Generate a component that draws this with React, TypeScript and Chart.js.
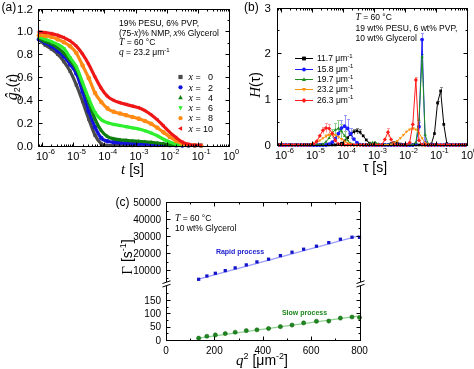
import React, { useEffect, useRef } from 'react';
import { Chart, registerables } from 'chart.js';

Chart.register(...registerables);

const W = 474;
const H = 369;
const SANS = '"Liberation Sans", Arial, Helvetica, sans-serif';
const SERIF = '"Liberation Serif", "Times New Roman", serif';
const fs = (size: number, w = '') => `${w ? w + ' ' : ''}${size}px ${SANS}`;
const ff = (size: number, w = '') => `${w ? w + ' ' : ''}${size}px ${SERIF}`;

// ---------------- Panel (a): g2(t) curves ----------------
const tA = [
  7.94e-7, 1.26e-6, 2.0e-6, 3.16e-6, 5.01e-6, 7.94e-6, 1.26e-5, 2.0e-5, 3.16e-5,
  5.01e-5, 7.94e-5, 1.26e-4, 2.0e-4, 3.16e-4, 5.01e-4, 7.94e-4, 1.26e-3, 2.0e-3,
  3.16e-3, 5.01e-3, 7.94e-3, 1.26e-2, 2.0e-2, 3.16e-2, 5.01e-2, 7.94e-2, 1.26e-1,
];
const gX0 = [0.93, 0.88, 0.845, 0.8, 0.735, 0.65, 0.53, 0.385, 0.23, 0.09, 0.015, 0, 0, 0, 0, 0, 0, 0, 0, 0, 0, 0, 0, 0, 0, 0, 0];
const gX2 = [0.93, 0.9, 0.87, 0.83, 0.78, 0.71, 0.63, 0.47, 0.3, 0.16, 0.065, 0.037, 0.028, 0.024, 0.02, 0.018, 0.016, 0.014, 0.012, 0.01, 0.008, 0.005, 0.003, 0.001, 0, 0, 0];
const gX4 = [0.94, 0.91, 0.89, 0.855, 0.81, 0.745, 0.67, 0.54, 0.38, 0.23, 0.13, 0.078, 0.058, 0.05, 0.045, 0.04, 0.037, 0.033, 0.028, 0.022, 0.015, 0.008, 0.003, 0.001, 0, 0, 0];
const gX6 = [0.95, 0.93, 0.91, 0.885, 0.85, 0.77, 0.69, 0.55, 0.41, 0.29, 0.225, 0.2, 0.185, 0.175, 0.165, 0.155, 0.145, 0.13, 0.11, 0.085, 0.055, 0.03, 0.012, 0.004, 0.001, 0, 0];
const gX8 = [0.965, 0.96, 0.95, 0.93, 0.905, 0.87, 0.81, 0.7, 0.59, 0.46, 0.38, 0.325, 0.295, 0.28, 0.265, 0.25, 0.235, 0.215, 0.19, 0.155, 0.115, 0.075, 0.04, 0.015, 0.004, 0.001, 0];
const gX10 = [0.995, 0.99, 0.98, 0.965, 0.945, 0.915, 0.87, 0.8, 0.71, 0.6, 0.5, 0.43, 0.395, 0.375, 0.36, 0.345, 0.33, 0.305, 0.27, 0.225, 0.17, 0.115, 0.07, 0.03, 0.01, 0.002, 0];
const legendA = ['0', '2', '4', '6', '8', '10'];
const yTicksA = [0, 0.2, 0.4, 0.6, 0.8, 1.0, 1.2];
const yTickLabelsA = ['0.0', '0.2', '0.4', '0.6', '0.8', '1.0', '1.2'];
const yMinorA = [0.1, 0.3, 0.5, 0.7, 0.9, 1.1];
const logExps = [-6, -5, -4, -3, -2, -1, 0];
const decades = [1e-6, 1e-5, 1e-4, 1e-3, 1e-2, 1e-1, 1];

// ---------------- Panel (b): H(tau) distributions ----------------
const tauB = [
  8.91e-7,
  1.12e-6, 1.41e-6, 1.78e-6, 2.24e-6, 2.82e-6, 3.55e-6, 4.47e-6, 5.62e-6, 7.08e-6, 8.91e-6,
  1.12e-5, 1.41e-5, 1.78e-5, 2.24e-5, 2.82e-5, 3.55e-5, 4.47e-5, 5.62e-5, 7.08e-5, 8.91e-5,
  1.12e-4, 1.41e-4, 1.78e-4, 2.24e-4, 2.82e-4, 3.55e-4, 4.47e-4, 5.62e-4, 7.08e-4, 8.91e-4,
  1.12e-3, 1.41e-3, 1.78e-3, 2.24e-3, 2.82e-3, 3.55e-3, 4.47e-3, 5.62e-3, 7.08e-3, 8.91e-3,
  1.12e-2, 1.41e-2, 1.78e-2, 2.24e-2, 2.82e-2, 3.55e-2, 4.47e-2, 5.62e-2, 7.08e-2, 8.91e-2,
  1.12e-1, 1.41e-1, 1.78e-1, 2.24e-1, 2.82e-1, 3.55e-1, 4.47e-1, 5.62e-1, 7.08e-1, 8.91e-1,
];
const hBlack = [
  0, 0, 0, 0, 0, 0, 0, 0, 0, 0,
  0, 0, 0, 0, 0, 0, 0, 0, 0, 0.01,
  0.04, 0.09, 0.16, 0.23, 0.29, 0.31, 0.28, 0.2, 0.11, 0.04,
  0.01, 0, 0, 0, 0, 0, 0.03, 0.05, 0.04, 0.02,
  0, 0, 0, 0, 0, 0, 0, 0, 0, 0.02,
  0.25, 0.92, 1.18, 0.45, 0.03, 0, 0, 0, 0, 0,
  0,
];
const hBlue = [
  0, 0, 0, 0, 0, 0, 0, 0, 0, 0,
  0, 0, 0, 0, 0, 0, 0.02, 0.06, 0.14, 0.25,
  0.37, 0.41, 0.36, 0.25, 0.13, 0.05, 0.01, 0, 0, 0,
  0, 0, 0, 0, 0, 0, 0, 0, 0, 0,
  0, 0, 0, 0, 0.02, 0.4, 2.3, 0.05, 0, 0,
  0, 0, 0, 0, 0, 0, 0, 0, 0, 0,
  0,
];
const hGreen = [
  0, 0, 0, 0, 0, 0, 0, 0, 0, 0,
  0, 0, 0, 0, 0.02, 0.07, 0.15, 0.26, 0.33, 0.36,
  0.3, 0.2, 0.1, 0.03, 0, 0, 0, 0, 0, 0.03,
  0.05, 0.05, 0.02, 0, 0, 0, 0, 0, 0, 0,
  0, 0, 0, 0, 0.05, 0.55, 1.93, 0.22, 0.02, 0,
  0, 0, 0, 0, 0, 0, 0, 0, 0, 0,
  0,
];
const hOrange = [
  0, 0, 0, 0, 0, 0, 0, 0, 0, 0,
  0.01, 0.03, 0.06, 0.1, 0.15, 0.19, 0.22, 0.23, 0.22, 0.18,
  0.13, 0.08, 0.04, 0.02, 0, 0, 0, 0, 0, 0,
  0, 0, 0, 0, 0, 0, 0.01, 0.04, 0.09, 0.15,
  0.22, 0.29, 0.34, 0.36, 0.34, 0.27, 0.15, 0.05, 0.01, 0,
  0, 0, 0, 0, 0, 0, 0, 0, 0, 0,
  0,
];
const hRed = [
  0, 0, 0, 0, 0, 0, 0, 0, 0, 0,
  0, 0.02, 0.08, 0.2, 0.32, 0.37, 0.36, 0.25, 0.1, 0.02,
  0, 0, 0, 0, 0, 0, 0, 0, 0, 0,
  0, 0, 0, 0, 0.12, 0.28, 0.12, 0, 0, 0,
  0, 0, 0.05, 0.45, 1.42, 0.1, 0.01, 0, 0, 0,
  0, 0, 0, 0, 0, 0, 0, 0, 0, 0,
  0,
];
const eBlack = [
  0, 0, 0, 0, 0, 0, 0, 0, 0, 0,
  0, 0, 0, 0, 0, 0, 0, 0, 0, 0,
  0, 0, 0, 0.05, 0.06, 0.07, 0.06, 0, 0, 0,
  0, 0, 0, 0, 0, 0, 0, 0, 0, 0,
  0, 0, 0, 0, 0, 0, 0, 0, 0, 0,
  0, 0.05, 0.08, 0, 0, 0, 0, 0, 0, 0,
  0,
];
const eBlue = [
  0, 0, 0, 0, 0, 0, 0, 0, 0, 0,
  0, 0, 0, 0, 0, 0, 0, 0, 0, 0.12,
  0.18, 0.24, 0.2, 0.12, 0, 0, 0, 0, 0, 0,
  0, 0, 0, 0, 0, 0, 0, 0, 0, 0,
  0, 0, 0, 0, 0, 0.1, 0.15, 0, 0, 0,
  0, 0, 0, 0, 0, 0, 0, 0, 0, 0,
  0,
];
const eGreen = [
  0, 0, 0, 0, 0, 0, 0, 0, 0, 0,
  0, 0, 0, 0, 0, 0, 0, 0.1, 0.16, 0.18,
  0.15, 0.1, 0, 0, 0, 0, 0, 0, 0, 0,
  0, 0, 0, 0, 0, 0, 0, 0, 0, 0,
  0, 0, 0, 0, 0, 0, 0.05, 0, 0, 0,
  0, 0, 0, 0, 0, 0, 0, 0, 0, 0,
  0,
];
const eOrange = [
  0, 0, 0, 0, 0, 0, 0, 0, 0, 0,
  0, 0, 0, 0, 0, 0.04, 0.05, 0.05, 0, 0,
  0, 0, 0, 0, 0, 0, 0, 0, 0, 0,
  0, 0, 0, 0, 0, 0, 0, 0, 0, 0,
  0, 0, 0, 0.03, 0, 0, 0, 0, 0, 0,
  0, 0, 0, 0, 0, 0, 0, 0, 0, 0,
  0,
];
const eRed = [
  0, 0, 0, 0, 0, 0, 0, 0, 0, 0,
  0, 0, 0, 0, 0.08, 0.1, 0.1, 0.06, 0, 0,
  0, 0, 0, 0, 0, 0, 0, 0, 0, 0,
  0, 0, 0, 0, 0, 0.1, 0, 0, 0, 0,
  0, 0, 0, 0, 0.06, 0, 0, 0, 0, 0,
  0, 0, 0, 0, 0, 0, 0, 0, 0, 0,
  0,
];
const legendB = ['11.7', '15.8', '19.7', '23.2', '26.3'];
const yTicksB = [0, 1, 2, 3];
const yMinorB = [0.5, 1.5, 2.5];

// ---------------- Panel (c): relaxation rates ----------------
const q2C = [135, 169, 204, 245, 286, 332, 376, 424, 473, 521, 569, 622, 673, 721, 769, 800];
const gammaRapid = [4490, 6440, 8040, 9630, 11230, 13000, 14770, 16370, 18490, 20500, 22270, 24050, 26180, 28180, 29360, 29300];
const gammaSlow = [7, 14, 19, 24, 29, 35, 38, 43, 50, 56, 64, 70, 71, 82, 86, 84];
const fitQ2 = [135, 800];
const fitRapid = [4600, 30300];
const fitSlow = [7, 90];
const xTicksC = [0, 200, 400, 600, 800];
const xMinorC = [100, 300, 500, 700];
const yTicksCTop = [10000, 20000, 30000, 40000, 50000];
const yMinorCTop = [5000, 15000, 25000, 35000, 45000];
const yTicksCBot = [0, 50, 100, 150];
const yMinorCBot = [25, 75, 125, 175];

// ---------------- helpers ----------------
type Part = { t: string; font: string; dy?: number; color?: string };

function rich(ctx: CanvasRenderingContext2D, parts: Part[], x: number, y: number, align = 'left', rot = 0, off = 0) {
  ctx.save();
  ctx.translate(x, y);
  if (rot) ctx.rotate(rot);
  if (off) ctx.translate(0, off);
  ctx.textAlign = 'left';
  ctx.textBaseline = 'alphabetic';
  let total = 0;
  const widths = parts.map((p) => {
    ctx.font = p.font;
    const w = ctx.measureText(p.t).width;
    total += w;
    return w;
  });
  let cx = align === 'center' ? -total / 2 : align === 'right' ? -total : 0;
  parts.forEach((p, i) => {
    ctx.font = p.font;
    ctx.fillStyle = p.color || '#000';
    ctx.fillText(p.t, cx, p.dy || 0);
    cx += widths[i];
  });
  ctx.restore();
}

function sci(ctx: CanvasRenderingContext2D, e: number, x: number, base: number) {
  ctx.save();
  ctx.font = fs(11);
  const w = ctx.measureText('10').width;
  ctx.restore();
  rich(ctx, [{ t: '10', font: fs(11) }, { t: String(e), font: fs(7.5), dy: -6 }], x - w / 2, base);
}

const snap = (v: number) => Math.round(v) + 0.5;

function frame(ctx: CanvasRenderingContext2D, a: any, l: boolean, r: boolean, t: boolean, b: boolean) {
  const L = snap(a.left), R = snap(a.right), T = snap(a.top), B = snap(a.bottom);
  ctx.beginPath();
  if (l) { ctx.moveTo(L, T); ctx.lineTo(L, B); }
  if (r) { ctx.moveTo(R, T); ctx.lineTo(R, B); }
  if (t) { ctx.moveTo(L, T); ctx.lineTo(R, T); }
  if (b) { ctx.moveTo(L, B); ctx.lineTo(R, B); }
  ctx.stroke();
}

function ticksX(ctx: CanvasRenderingContext2D, chart: any, vals: number[], len: number, top: boolean, bottom: boolean) {
  const a = chart.chartArea;
  const s = chart.scales.x;
  ctx.beginPath();
  for (const v of vals) {
    const p = s.getPixelForValue(v);
    if (p < a.left - 0.01 || p > a.right + 0.01) continue;
    const x = snap(p);
    if (bottom) { ctx.moveTo(x, snap(a.bottom)); ctx.lineTo(x, snap(a.bottom) - len); }
    if (top) { ctx.moveTo(x, snap(a.top)); ctx.lineTo(x, snap(a.top) + len); }
  }
  ctx.stroke();
}

function ticksY(ctx: CanvasRenderingContext2D, chart: any, vals: number[], len: number, left: boolean, right: boolean) {
  const a = chart.chartArea;
  const s = chart.scales.y;
  ctx.beginPath();
  for (const v of vals) {
    const p = s.getPixelForValue(v);
    if (p < a.top - 0.01 || p > a.bottom + 0.01) continue;
    const y = snap(p);
    if (left) { ctx.moveTo(snap(a.left), y); ctx.lineTo(snap(a.left) + len, y); }
    if (right) { ctx.moveTo(snap(a.right), y); ctx.lineTo(snap(a.right) - len, y); }
  }
  ctx.stroke();
}

function mark(ctx: CanvasRenderingContext2D, style: string, x: number, y: number, r: number, color: string) {
  ctx.save();
  ctx.fillStyle = color;
  ctx.beginPath();
  if (style === 'rect') ctx.rect(x - r, y - r, 2 * r, 2 * r);
  else if (style === 'circle') ctx.arc(x, y, r, 0, Math.PI * 2);
  else if (style === 'up') { ctx.moveTo(x, y - r * 1.2); ctx.lineTo(x + r * 1.1, y + r * 0.75); ctx.lineTo(x - r * 1.1, y + r * 0.75); ctx.closePath(); }
  else if (style === 'down') { ctx.moveTo(x, y + r * 1.2); ctx.lineTo(x + r * 1.1, y - r * 0.75); ctx.lineTo(x - r * 1.1, y - r * 0.75); ctx.closePath(); }
  else if (style === 'left') { ctx.moveTo(x - r * 1.2, y); ctx.lineTo(x + r * 0.75, y - r * 1.1); ctx.lineTo(x + r * 0.75, y + r * 1.1); ctx.closePath(); }
  else if (style === 'diamond') { ctx.moveTo(x, y - r * 1.3); ctx.lineTo(x + r * 1.3, y); ctx.lineTo(x, y + r * 1.3); ctx.lineTo(x - r * 1.3, y); ctx.closePath(); }
  ctx.fill();
  ctx.restore();
}

const cjsStyle: Record<string, [string, number]> = {
  rect: ['rect', 0],
  circle: ['circle', 0],
  up: ['triangle', 0],
  down: ['triangle', 180],
  left: ['triangle', -90],
  diamond: ['rectRot', 0],
};

const logMinor: number[] = [];
for (let e = -7; e < 0; e++) for (let m = 2; m <= 9; m++) logMinor.push(m * Math.pow(10, e));

function baseOptions(l: number, t: number, r: number, b: number, scales: any) {
  return {
    responsive: false,
    maintainAspectRatio: false,
    animation: false,
    devicePixelRatio: 1,
    events: [],
    layout: { padding: { left: l, top: t, right: W - r, bottom: H - b } },
    plugins: { legend: { display: false }, tooltip: { enabled: false }, title: { display: false } },
    scales,
  };
}

// ---------------- chart configs ----------------
const seriesA = [
  { lab: legendA[0], vals: gX0, color: '#4a4a4a', style: 'rect' },
  { lab: legendA[1], vals: gX2, color: '#1212dd', style: 'circle' },
  { lab: legendA[2], vals: gX4, color: '#0e7e0e', style: 'up' },
  { lab: legendA[3], vals: gX6, color: '#2eef2e', style: 'down' },
  { lab: legendA[4], vals: gX8, color: '#ff8a14', style: 'circle' },
  { lab: legendA[5], vals: gX10, color: '#ee1616', style: 'left' },
];

const seriesB = [
  { q: legendB[0], vals: hBlack, err: eBlack, color: '#000000', ecolor: '#8a8a8a', style: 'rect' },
  { q: legendB[1], vals: hBlue, err: eBlue, color: '#1a1aff', ecolor: '#9a9aff', style: 'circle' },
  { q: legendB[2], vals: hGreen, err: eGreen, color: '#1f8f1f', ecolor: '#90cc90', style: 'up' },
  { q: legendB[3], vals: hOrange, err: eOrange, color: '#ff9410', ecolor: '#ffc986', style: 'down' },
  { q: legendB[4], vals: hRed, err: eRed, color: '#ff1c1c', ecolor: '#ff9d9d', style: 'diamond' },
];

function makeA(): any {
  return {
    type: 'scatter',
    data: {
      datasets: seriesA.map((s, i) => ({
        label: 'x = ' + s.lab,
        data: tA.map((t, j) => ({ x: t, y: s.vals[j] })),
        showLine: true,
        borderColor: s.color,
        backgroundColor: s.color,
        borderWidth: 3.2,
        pointRadius: 2.3,
        pointBorderWidth: 0,
        pointStyle: cjsStyle[s.style][0],
        pointRotation: cjsStyle[s.style][1],
        cubicInterpolationMode: 'monotone',
        order: 10 - i,
        clip: false,
      })),
    },
    options: baseOptions(38, 8.5, 229, 145.5, {
      x: { type: 'logarithmic', min: 7.4e-7, max: 1, display: false },
      y: { type: 'linear', min: 0, max: 1.2, display: false },
    }),
    plugins: [
      {
        id: 'decorA',
        afterDraw(chart: any) {
          const ctx = chart.ctx as CanvasRenderingContext2D;
          const a = chart.chartArea;
          const sx = chart.scales.x;
          const sy = chart.scales.y;
          ctx.save();
          ctx.strokeStyle = '#000';
          ctx.lineWidth = 1;
          ctx.lineCap = 'square';
          frame(ctx, a, true, true, true, true);
          ctx.lineCap = 'butt';
          ticksX(ctx, chart, decades, 4, true, true);
          ticksX(ctx, chart, logMinor, 2, true, true);
          ticksY(ctx, chart, yTicksA, 4, true, true);
          ticksY(ctx, chart, yMinorA, 2, true, true);
          logExps.forEach((e, i) => sci(ctx, e, sx.getPixelForValue(decades[i]), 160));
          yTicksA.forEach((v, i) => rich(ctx, [{ t: yTickLabelsA[i], font: fs(11.5) }], 33, sy.getPixelForValue(v) + 4, 'right'));
          // titles
          rich(ctx, [{ t: '(a)', font: fs(12) }], 1.5, 11);
          rich(ctx, [{ t: 't', font: ff(15, 'italic') }, { t: ' [s]', font: fs(14) }], 132.5, 174, 'center');
          rich(
            ctx,
            [
              { t: 'ĝ', font: ff(16, 'italic') },
              { t: '2', font: fs(9), dy: 3 },
              { t: '(', font: fs(14) },
              { t: 't', font: ff(15, 'italic') },
              { t: ')', font: fs(14) },
            ],
            11.5, 87, 'center', -Math.PI / 2, 5,
          );
          // annotation
          const f = fs(8.5);
          const fi = ff(9.5, 'italic');
          rich(ctx, [{ t: '19% PESU, 6% PVP,', font: f }], 119, 26);
          rich(ctx, [{ t: '(75-', font: f }, { t: 'x', font: fi }, { t: ')% NMP, ', font: f }, { t: 'x', font: fi }, { t: '% Glycerol', font: f }], 119, 35.6);
          rich(ctx, [{ t: 'T', font: fi }, { t: ' = 60 °C', font: f }], 119, 45.3);
          rich(ctx, [{ t: 'q', font: fi }, { t: ' = 23.2 μm', font: f }, { t: '-1', font: fs(6), dy: -3.5 }], 119, 55);
          // legend
          const rows = [77, 87.3, 97.6, 107.9, 118.2, 128.5];
          seriesA.forEach((s, i) => {
            mark(ctx, s.style, 180.5, rows[i], 2.1, s.color);
            rich(ctx, [{ t: 'x', font: ff(10, 'italic') }, { t: ' =', font: fs(9) }], 188.5, rows[i] + 3.2);
            rich(ctx, [{ t: s.lab, font: fs(9) }], 213, rows[i] + 3.2, 'right');
          });
          ctx.restore();
        },
      },
    ],
  };
}

function makeB(): any {
  return {
    type: 'scatter',
    data: {
      datasets: seriesB.map((s, i) => ({
        label: s.q,
        data: tauB.map((t, j) => ({ x: t, y: s.vals[j] })),
        showLine: true,
        borderColor: s.color,
        backgroundColor: s.color,
        borderWidth: 1,
        pointRadius: s.style === 'diamond' ? 2.1 : 1.9,
        pointBorderWidth: 0,
        pointStyle: cjsStyle[s.style][0],
        pointRotation: cjsStyle[s.style][1],
        order: 10 - i,
        clip: false,
      })),
    },
    options: baseOptions(277, 7.5, 467, 145, {
      x: { type: 'logarithmic', min: 7.4e-7, max: 1, display: false },
      y: { type: 'linear', min: 0, max: 3, display: false },
    }),
    plugins: [
      {
        id: 'decorB',
        beforeDatasetsDraw(chart: any) {
          const ctx = chart.ctx as CanvasRenderingContext2D;
          const sx = chart.scales.x;
          const sy = chart.scales.y;
          ctx.save();
          ctx.lineWidth = 1;
          seriesB.forEach((s) => {
            ctx.strokeStyle = s.ecolor;
            ctx.beginPath();
            s.err.forEach((e, i) => {
              if (!e) return;
              const x = snap(sx.getPixelForValue(tauB[i]));
              const yTop = snap(sy.getPixelForValue(s.vals[i] + e));
              const yBot = sy.getPixelForValue(Math.max(0, s.vals[i] - e));
              ctx.moveTo(x, yBot);
              ctx.lineTo(x, yTop);
              ctx.moveTo(x - 1.5, yTop);
              ctx.lineTo(x + 1.5, yTop);
            });
            ctx.stroke();
          });
          ctx.restore();
        },
        afterDraw(chart: any) {
          const ctx = chart.ctx as CanvasRenderingContext2D;
          const a = chart.chartArea;
          const sx = chart.scales.x;
          const sy = chart.scales.y;
          ctx.save();
          ctx.strokeStyle = '#000';
          ctx.lineWidth = 1;
          ctx.lineCap = 'square';
          frame(ctx, a, true, true, true, true);
          ctx.lineCap = 'butt';
          ticksX(ctx, chart, decades, 4, true, true);
          ticksX(ctx, chart, logMinor, 2, true, true);
          ticksY(ctx, chart, yTicksB, 4, true, true);
          ticksY(ctx, chart, yMinorB, 2, true, true);
          logExps.forEach((e, i) => sci(ctx, e, sx.getPixelForValue(decades[i]), 158.5));
          yTicksB.forEach((v) => rich(ctx, [{ t: String(v), font: fs(11.5) }], 271, sy.getPixelForValue(v) + 4, 'right'));
          rich(ctx, [{ t: '(b)', font: fs(12) }], 244, 11);
          rich(ctx, [{ t: 'τ [s]', font: fs(14) }], 375, 172, 'center');
          rich(ctx, [{ t: 'H', font: ff(15, 'italic') }, { t: '(τ)', font: fs(14) }], 255, 85, 'center', -Math.PI / 2, 5);
          const f = fs(8.5);
          rich(ctx, [{ t: 'T', font: ff(9.5, 'italic') }, { t: ' = 60 °C', font: f }], 355.5, 20);
          rich(ctx, [{ t: '19 wt% PESU, 6 wt% PVP,', font: f }], 355.5, 31);
          rich(ctx, [{ t: '10 wt% Glycerol', font: f }], 355.5, 41.3);
          const rows = [58.3, 68.6, 79, 89.3, 99.6];
          seriesB.forEach((s, i) => {
            ctx.strokeStyle = s.color;
            ctx.beginPath();
            ctx.moveTo(295, snap(rows[i]));
            ctx.lineTo(313, snap(rows[i]));
            ctx.stroke();
            mark(ctx, s.style, 304, snap(rows[i]), 1.9, s.color);
            rich(ctx, [{ t: s.q + ' μm', font: fs(8.5) }, { t: '-1', font: fs(6), dy: -3.5 }], 317, rows[i] + 3);
          });
          ctx.restore();
        },
      },
    ],
  };
}

function makeCTop(): any {
  return {
    type: 'scatter',
    data: {
      datasets: [
        {
          label: 'Rapid process',
          data: q2C.map((q, j) => ({ x: q, y: gammaRapid[j] })),
          showLine: false,
          backgroundColor: '#1414c8',
          borderColor: '#1414c8',
          pointStyle: 'rect',
          pointRadius: 2.3,
          pointBorderWidth: 0,
          order: 1,
          clip: false,
        },
        {
          label: 'Rapid fit',
          data: fitQ2.map((q, j) => ({ x: q, y: fitRapid[j] })),
          showLine: true,
          borderColor: '#9a9cff',
          borderWidth: 1.3,
          pointRadius: 0,
          order: 2,
        },
      ],
    },
    options: baseOptions(166, 202.3, 359.5, 282.5, {
      x: { type: 'linear', min: 0, max: 800, display: false },
      y: { type: 'linear', min: 2600, max: 50000, display: false },
    }),
    plugins: [
      {
        id: 'decorCTop',
        afterDraw(chart: any) {
          const ctx = chart.ctx as CanvasRenderingContext2D;
          const a = chart.chartArea;
          const sy = chart.scales.y;
          ctx.save();
          ctx.strokeStyle = '#000';
          ctx.lineWidth = 1;
          ctx.lineCap = 'square';
          frame(ctx, a, true, true, true, false);
          ctx.lineCap = 'butt';
          ticksX(ctx, chart, xTicksC, 4, true, false);
          ticksX(ctx, chart, xMinorC, 2, true, false);
          ticksY(ctx, chart, yTicksCTop, 4, true, true);
          ticksY(ctx, chart, yMinorCTop, 2, true, true);
          yTicksCTop.forEach((v) => rich(ctx, [{ t: String(v), font: fs(10) }], 161, sy.getPixelForValue(v) + 3.6, 'right'));
          rich(ctx, [{ t: '(c)', font: fs(12) }], 115.5, 206);
          rich(ctx, [{ t: 'T', font: ff(9.5, 'italic') }, { t: ' = 60 °C', font: fs(8.5) }], 175, 221);
          rich(ctx, [{ t: '10 wt% Glycerol', font: fs(8.5) }], 175, 230.5);
          rich(ctx, [{ t: 'Rapid process', font: fs(7, 'bold'), color: '#2020d0' }], 240, 253.8, 'center');
          ctx.restore();
        },
      },
    ],
  };
}

function makeCBot(): any {
  return {
    type: 'scatter',
    data: {
      datasets: [
        {
          label: 'Slow process',
          data: q2C.map((q, j) => ({ x: q, y: gammaSlow[j] })),
          showLine: false,
          backgroundColor: '#1d861d',
          borderColor: '#0f5f0f',
          pointStyle: 'circle',
          pointRadius: 2.1,
          pointBorderWidth: 0.5,
          order: 1,
          clip: false,
        },
        {
          label: 'Slow fit',
          data: fitQ2.map((q, j) => ({ x: q, y: fitSlow[j] })),
          showLine: true,
          borderColor: '#8fd28f',
          borderWidth: 1.3,
          pointRadius: 0,
          order: 2,
        },
      ],
    },
    options: baseOptions(166, 285.5, 359.5, 340, {
      x: { type: 'linear', min: 0, max: 800, display: false },
      y: { type: 'linear', min: 0, max: 204, display: false },
    }),
    plugins: [
      {
        id: 'decorCBot',
        afterDraw(chart: any) {
          const ctx = chart.ctx as CanvasRenderingContext2D;
          const a = chart.chartArea;
          const sx = chart.scales.x;
          const sy = chart.scales.y;
          ctx.save();
          ctx.strokeStyle = '#000';
          ctx.lineWidth = 1;
          ctx.lineCap = 'square';
          frame(ctx, a, true, true, false, true);
          ctx.lineCap = 'butt';
          ticksX(ctx, chart, xTicksC, 4, false, true);
          ticksX(ctx, chart, xMinorC, 2, false, true);
          ticksY(ctx, chart, yTicksCBot, 4, true, true);
          ticksY(ctx, chart, yMinorCBot, 2, true, true);
          yTicksCBot.forEach((v) => rich(ctx, [{ t: String(v), font: fs(10) }], 161, sy.getPixelForValue(v) + 3.6, 'right'));
          xTicksC.forEach((v) => rich(ctx, [{ t: String(v), font: fs(10) }], sx.getPixelForValue(v), 354, 'center'));
          rich(ctx, [{ t: 'Slow process', font: fs(7, 'bold'), color: '#1d861d' }], 304.5, 314.8, 'center');
          rich(
            ctx,
            [
              { t: 'q', font: ff(15, 'italic') },
              { t: '2', font: fs(9), dy: -6 },
              { t: ' [μm', font: fs(14) },
              { t: '-2', font: fs(9), dy: -6 },
              { t: ']', font: fs(14) },
            ],
            262, 364.5, 'center',
          );
          rich(
            ctx,
            [
              { t: 'Γ', font: ff(15) },
              { t: ' [s', font: fs(14) },
              { t: '-1', font: fs(9), dy: -6 },
              { t: ']', font: fs(14) },
            ],
            127, 257, 'center', -Math.PI / 2, 5,
          );
          // axis break marks
          const xs = [snap(a.left), snap(a.right)];
          ctx.lineWidth = 1;
          xs.forEach((x) => {
            ctx.fillStyle = '#fff';
            ctx.fillRect(x - 3, 282, 6, 4);
            ctx.beginPath();
            ctx.moveTo(x - 4, 283.5);
            ctx.lineTo(x + 4, 280.8);
            ctx.moveTo(x - 4, 287);
            ctx.lineTo(x + 4, 284.3);
            ctx.stroke();
          });
          ctx.restore();
        },
      },
    ],
  };
}

export default function App() {
  const refA = useRef<HTMLCanvasElement>(null);
  const refB = useRef<HTMLCanvasElement>(null);
  const refC1 = useRef<HTMLCanvasElement>(null);
  const refC2 = useRef<HTMLCanvasElement>(null);

  useEffect(() => {
    document.body.style.margin = '0';
    const charts: Chart[] = [];
    if (refA.current) charts.push(new Chart(refA.current, makeA()));
    if (refB.current) charts.push(new Chart(refB.current, makeB()));
    if (refC1.current) charts.push(new Chart(refC1.current, makeCTop()));
    if (refC2.current) charts.push(new Chart(refC2.current, makeCBot()));
    return () => charts.forEach((c) => c.destroy());
  }, []);

  const cs: React.CSSProperties = { position: 'absolute', left: 0, top: 0, width: W, height: H };
  return (
    <div style={{ position: 'relative', width: W, height: H, background: '#fff', overflow: 'hidden' }}>
      <canvas ref={refA} width={W} height={H} style={cs} />
      <canvas ref={refB} width={W} height={H} style={cs} />
      <canvas ref={refC1} width={W} height={H} style={cs} />
      <canvas ref={refC2} width={W} height={H} style={cs} />
    </div>
  );
}
